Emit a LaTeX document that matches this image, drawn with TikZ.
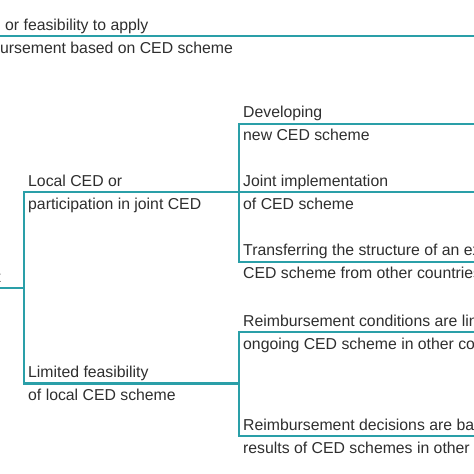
\documentclass[tikz,border=0pt]{standalone}
\usepackage{fontspec}
\setmainfont{Liberation Sans}
\definecolor{teal1}{HTML}{2A9FA8}
\definecolor{txt}{HTML}{2E2E2E}
\begin{document}
\begin{tikzpicture}[x=1pt,y=-1pt,
  branch/.style={draw=teal1,line width=2.1pt,line join=miter},
  lbl/.style={inner sep=0pt,anchor=base west,text=txt,font=\fontsize{15.8}{18}\selectfont}]
\useasboundingbox (0,0) rectangle (474,474);
\clip (0,0) rectangle (474,474);
% junction coordinates
\coordinate (t0) at (-2,36);
\coordinate (t1) at (476,36);
\coordinate (r) at (-2,288);
\coordinate (a) at (24,288);
\coordinate (l1) at (24,192);
\coordinate (l2) at (24,383.5);
\coordinate (m1) at (239,192);
\coordinate (m2) at (239,383.5);
\coordinate (u1) at (239,124);
\coordinate (u1e) at (476,124);
\coordinate (u2e) at (476,192);
\coordinate (u3) at (239,262);
\coordinate (u3e) at (476,262);
\coordinate (v1) at (239,332);
\coordinate (v1e) at (476,332);
\coordinate (v2) at (239,436);
\coordinate (v2e) at (476,436);
% connectors
\draw[branch] (t0) -- (t1);
\draw[branch] (r) -- (a);
\draw[branch] (m1) -- (l1) -- (l2) -- (m2);
\draw[branch] (u1e) -- (u1) -- (u3) -- (u3e);
\draw[branch] (m1) -- (u2e);
\draw[branch] (v1e) -- (v1) -- (v2) -- (v2e);
% labels
\node[lbl] (top1) at (5,30) {or feasibility to apply};
\node[lbl] (top2) at (0,53) {ursement based on CED scheme};
\node[lbl,anchor=base east] (frag) at (0.9,282) {t};
\node[lbl] (loc1) at (28,186.5) {Local CED or};
\node[lbl] (loc2) at (28,209) {participation in joint CED};
\node[lbl] (lim1) at (28,377.5) {Limited feasibility};
\node[lbl] (lim2) at (28,400) {of local CED scheme};
\node[lbl] (dev1) at (243,117) {Developing};
\node[lbl] (dev2) at (243,140) {new CED scheme};
\node[lbl] (joi1) at (243,186.5) {Joint implementation};
\node[lbl] (joi2) at (243,209) {of CED scheme};
\node[lbl] (tra1) at (243,255.5) {Transferring the structure of an existing};
\node[lbl] (tra2) at (243,278.5) {CED scheme from other countries};
\node[lbl] (rc1) at (243,326) {Reimbursement conditions are linked to};
\node[lbl] (rc2) at (243,349) {ongoing CED scheme in other countries};
\node[lbl] (rd1) at (243,430) {Reimbursement decisions are based on};
\node[lbl] (rd2) at (243,453) {results of CED schemes in other countries};
\end{tikzpicture}
\end{document}
